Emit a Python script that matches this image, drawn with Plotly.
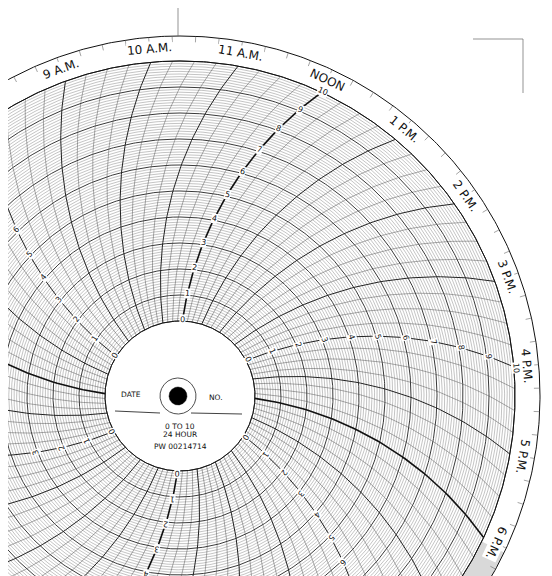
import numpy as np
import plotly.graph_objects as go

# ---- data ----
hour_labels = {9: "9 A.M.", 10: "10 A.M.", 11: "11 A.M.", 12: "NOON", 13: "1 P.M.",
               14: "2 P.M.", 15: "3 P.M.", 16: "4 P.M.", 17: "5 P.M.", 18: "6 P.M.",
               19: "7 P.M.", 20: "8 P.M.", 7: "7 A.M.", 8: "8 A.M."}
scale_values = list(range(0, 11))          # 0 TO 10
numbered_hours = [0, 4, 8, 12, 16, 20]     # lines carrying the 0..10 scale
bold_hours = [0, 6, 12, 18]
hub_texts = ["0 TO 10", "24 HOUR", "PW 00214714"]

# ---- geometry ----
CX, CY = 172, 388
R_IN, R_GRID, R_RIM = 75, 335, 360
L = 340.0
W, H = 552, 576

def rim_angle(h):
    return np.radians(25 + 15 * (h - 12))

def rad(v):
    return R_IN + (R_GRID - R_IN) * v / 10.0

def arc_angle(h, r):
    return rim_angle(h) + np.arcsin(r / (2 * L)) - np.arcsin(R_GRID / (2 * L))

def xy(theta, r):
    return CX + r * np.sin(theta), CY - r * np.cos(theta)

fig = go.Figure()

def add_lines(segs, width, color="#111"):
    xs, ys = [], []
    for sx, sy in segs:
        xs += list(sx) + [None]
        ys += list(sy) + [None]
    fig.add_trace(go.Scatter(x=xs, y=ys, mode="lines", line=dict(color=color, width=width),
                             hoverinfo="skip", showlegend=False))

t = np.linspace(0, 2 * np.pi, 721)
a = np.linspace(rim_angle(18.05), rim_angle(20.5), 60)
px = list(CX + R_GRID * np.sin(a)) + list(CX + R_RIM * np.sin(a[::-1]))
py = list(CY - R_GRID * np.cos(a)) + list(CY - R_RIM * np.cos(a[::-1]))
fig.add_trace(go.Scatter(x=px, y=py, fill="toself", fillcolor="#d9d9d9", line=dict(width=0),
                         mode="lines", hoverinfo="skip", showlegend=False))

minor = [(CX + rad(v) * np.sin(t), CY - rad(v) * np.cos(t)) for v in np.arange(0, 10.01, 0.1)
         if abs(v - round(v)) > 1e-6]
add_lines(minor, 0.35, "#555")
major = [(CX + rad(v) * np.sin(t), CY - rad(v) * np.cos(t)) for v in scale_values]
add_lines(major, 0.9, "#222")

rr = np.linspace(R_IN, R_GRID, 60)
minor_t, hour_t, bold_t = [], [], []
for q in range(96):
    h = q / 4.0
    seg = xy(arc_angle(h, rr), rr)
    if q % 4:
        minor_t.append(seg)
    elif (q // 4) in bold_hours:
        bold_t.append(seg)
    else:
        hour_t.append(seg)
add_lines(minor_t, 0.45, "#444")
add_lines(hour_t, 1.0, "#222")
add_lines(bold_t, 1.6)

add_lines([(CX + R_GRID * np.sin(t), CY - R_GRID * np.cos(t)),
           (CX + R_RIM * np.sin(t), CY - R_RIM * np.cos(t))], 1.0)
ticks = []
for q in range(96):
    h = q / 4.0
    th = rim_angle(h)
    r0 = R_RIM - (14 if q % 4 == 0 else 6)
    ticks.append(xy(np.array([th, th]), np.array([r0, R_RIM])))
add_lines(ticks, 0.6, "#666")

add_lines([(CX + R_IN * np.sin(t), CY - R_IN * np.cos(t))], 0.9)
fig.add_trace(go.Scatter(x=list(CX - 2 + 18 * np.sin(t)), y=list(CY - 18 * np.cos(t)), mode="lines",
                         fill="toself", fillcolor="white", line=dict(color="#222", width=0.8),
                         hoverinfo="skip", showlegend=False))
fig.add_trace(go.Scatter(x=list(CX - 2 + 9 * np.sin(t)), y=list(CY - 9 * np.cos(t)), mode="lines",
                         fill="toself", fillcolor="black", line=dict(color="black", width=0.5),
                         hoverinfo="skip", showlegend=False))
add_lines([([107, 152], [403, 405]), ([183, 234], [405, 406])], 0.8)

ann = []
def txt(x, y, s, size, angle=0, bg=None):
    d = dict(x=x, y=y, text=s, showarrow=False, textangle=angle,
             font=dict(family="DejaVu Sans", size=size, color="#111"))
    if bg:
        d["bgcolor"] = bg
        d["borderpad"] = 0
    ann.append(d)

txt(123, 386, "DATE", 7.5)
txt(208, 389, "NO.", 7.5)
for s, y in zip(hub_texts, [418, 426, 438]):
    txt(172, y, s, 7.5)

for h, s in hour_labels.items():
    th = rim_angle(h)
    x, y = xy(th, (R_GRID + R_RIM) / 2 + 1)
    txt(float(x), float(y), "%s" % s, 12, angle=float(np.degrees(th)), bg="white")

for h in numbered_hours:
    for v in scale_values:
        r = rad(v) + 2
        x, y = xy(arc_angle(h, r), r)
        if x < 8 or x > W - 8 or y < 8 or y > H - 8:
            continue
        txt(float(x), float(y), str(v), 8, angle=float(np.degrees(arc_angle(h, r))), bg="white")

add_lines([([170, 170], [0, 28]), ([465, 515, 515], [31, 31, 85])], 0.7, "#666")

fig.update_layout(width=W, height=H, margin=dict(l=0, r=0, t=0, b=0),
                  plot_bgcolor="white", paper_bgcolor="white", annotations=ann,
                  xaxis=dict(range=[0, W], visible=False),
                  yaxis=dict(range=[H, 0], visible=False, scaleanchor="x", scaleratio=1))
fig.write_html("out.html")
